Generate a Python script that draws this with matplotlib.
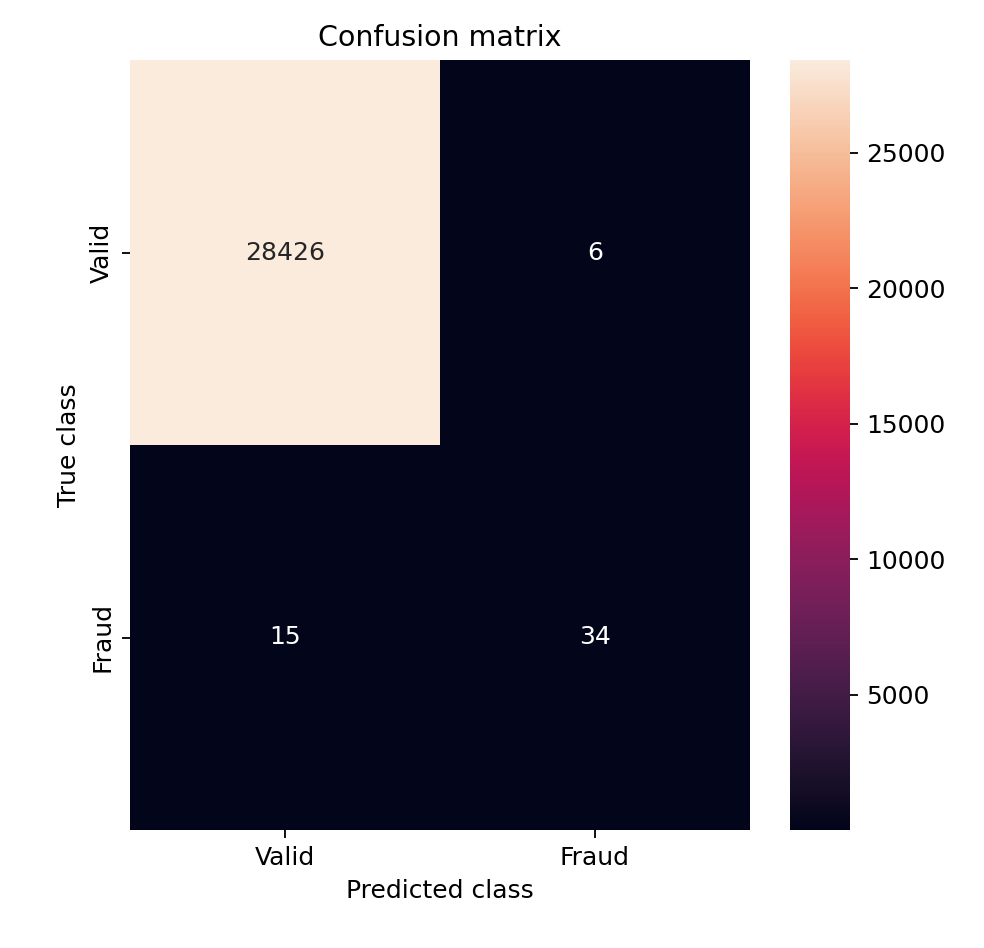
import matplotlib
matplotlib.use("Agg")
import matplotlib.pyplot as plt
import seaborn as sns
import numpy as np

labels = ["Valid", "Fraud"]
matrix = [[28426, 6], [15, 34]]

plt.rcParams['font.size'] = 11
fig = plt.figure(figsize=(6, 948/164), dpi=164)
ax = fig.add_axes([130/984, 1-830/948, 620/984, 770/948])
cax = fig.add_axes([790/984, 1-830/948, 60/984, 770/948])
sns.heatmap(np.array(matrix), xticklabels=labels, yticklabels=labels, annot=True, fmt="d",
            ax=ax, cbar_ax=cax, annot_kws={"size": 11})
ax.set_title("Confusion matrix", fontsize=12.5)
ax.set_ylabel("True class")
ax.set_xlabel("Predicted class")
fig.savefig("out.png", dpi=164)
